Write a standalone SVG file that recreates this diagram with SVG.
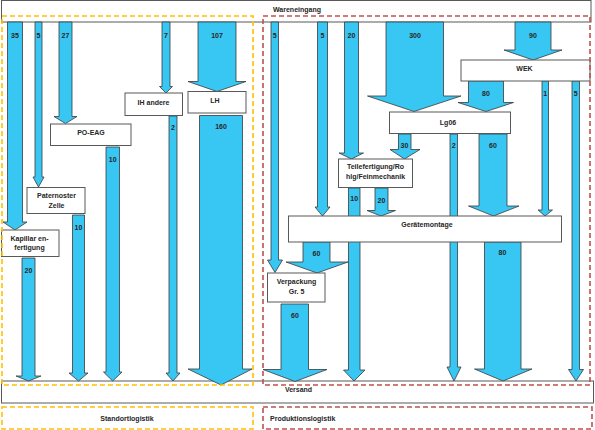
<svg xmlns="http://www.w3.org/2000/svg" width="595" height="430" viewBox="0 0 595 430">
<style>
.box{fill:#ffffff;stroke:#595959;stroke-width:1}
.arr{fill:#38c6f2;stroke:#3a3a3a;stroke-width:0.8;stroke-linejoin:miter}
.t{font-family:"Liberation Sans",Arial,sans-serif;font-size:7px;font-weight:bold;fill:#262626;text-anchor:middle}
.tl{font-family:"Liberation Sans",Arial,sans-serif;font-size:7px;font-weight:bold;fill:#262626}
.or{fill:none;stroke:#ffc000;stroke-width:1.6;stroke-dasharray:5,3}
.rd{fill:none;stroke:#c0504d;stroke-width:1.6;stroke-dasharray:5,3}
</style>
<rect width="595" height="430" fill="#ffffff"/>
<g id="wareneingang"><rect class="box" x="1.5" y="0.5" width="589.5" height="21.5"/><text class="t" x="297" y="11.5">Wareneingang</text></g>
<g id="versand"><rect class="box" x="1.5" y="381" width="592" height="22"/><text class="t" x="298.5" y="392">Versand</text></g>
<g id="connectors">
<polygon class="arr" points="7.5,22 22.5,22 22.5,222 27,222 15,230 3,222 7.5,222"/>
<polygon class="arr" points="22,258 35,258 35,376 41,376 28.5,381 16,376 22,376"/>
<polygon class="arr" points="35,22 42,22 42,177 44,177 38.5,187 33,177 35,177"/>
<polygon class="arr" points="72.5,215 84.5,215 84.5,373 88,373 78.5,381 69,373 72.5,373"/>
<polygon class="arr" points="59,22 72,22 72,116.5 77,116.5 65.5,123.5 54,116.5 59,116.5"/>
<polygon class="arr" points="106,147 119.5,147 119.5,372 122,372 112.7,381 103.5,372 106,372"/>
<polygon class="arr" points="162,22 170,22 170,86.5 172.5,86.5 166,93 159.5,86.5 162,86.5"/>
<polygon class="arr" points="169,116 177,116 177,373 180,373 173,381 166,373 169,373"/>
<polygon class="arr" points="198,22 236,22 236,81.5 246,81.5 217,91.5 188,81.5 198,81.5"/>
<polygon class="arr" points="199.5,115.5 242.5,115.5 242.5,369 252,369 221,385 188,369 199.5,369"/>
<polygon class="arr" points="271,22 278.5,22 278.5,260 282.5,260 275,272.5 267.5,260 271,260"/>
<polygon class="arr" points="281,304 308.5,304 308.5,369.5 327,369.5 295,381.5 263,369.5 281,369.5"/>
<polygon class="arr" points="317.5,22 327.5,22 327.5,207 330,207 322.5,216 315,207 317.5,207"/>
<polygon class="arr" points="344.5,22 358.5,22 358.5,153 363.5,153 351.5,159 339,153 344.5,153"/>
<polygon class="arr" points="386,22 443.5,22 443.5,96 461,96 414,111.5 367.5,96 386,96"/>
<polygon class="arr" points="515,22 551,22 551,50 562,50 533,60 504,50 515,50"/>
<polygon class="arr" points="468.5,81 503.5,81 503.5,102.5 513.5,102.5 486,111.5 458,102.5 468.5,102.5"/>
<polygon class="arr" points="542,81 548.5,81 548.5,210 552.5,210 545,216 538,210 542,210"/>
<polygon class="arr" points="572,81 579.5,81 579.5,369.5 583.5,369.5 576,381 568.5,369.5 572,369.5"/>
<polygon class="arr" points="398.5,134 411,134 411,149.5 420,149.5 404.5,159 390,149.5 398.5,149.5"/>
<polygon class="arr" points="450,134 457.5,134 457.5,367 461,367 454,381 447,367 450,367"/>
<polygon class="arr" points="479,134 507,134 507,206 519,206 493.5,216 468.5,206 479,206"/>
<polygon class="arr" points="484.5,242 521,242 521,369 532,369 503,381 474.5,369 484.5,369"/>
<polygon class="arr" points="348.5,188 360,188 360,370 365,370 354,381 343.5,370 348.5,370"/>
<polygon class="arr" points="375,188 388,188 388,210.5 395.5,210.5 381,216 367,210.5 375,210.5"/>
<polygon class="arr" points="303,242 330,242 330,262 348,262 317,273 286,262 303,262"/>
<text class="t" x="15" y="37.5">35</text>
<text class="t" x="38.5" y="37.5">5</text>
<text class="t" x="65.5" y="37.5">27</text>
<text class="t" x="166" y="37.5">7</text>
<text class="t" x="217" y="37.5">107</text>
<text class="t" x="274.7" y="37.5">5</text>
<text class="t" x="322.5" y="37.5">5</text>
<text class="t" x="351.5" y="37.5">20</text>
<text class="t" x="415" y="37.5">300</text>
<text class="t" x="533" y="37.5">90</text>
<text class="t" x="486" y="95.8">80</text>
<text class="t" x="545.2" y="95.8">1</text>
<text class="t" x="575.8" y="95.8">5</text>
<text class="t" x="404.5" y="148">30</text>
<text class="t" x="453.8" y="148">2</text>
<text class="t" x="493" y="148">60</text>
<text class="t" x="354.2" y="201">10</text>
<text class="t" x="381.5" y="202.5">20</text>
<text class="t" x="316.5" y="256">60</text>
<text class="t" x="502.5" y="255">80</text>
<text class="t" x="295" y="317.5">60</text>
<text class="t" x="221" y="129">160</text>
<text class="t" x="173" y="130">2</text>
<text class="t" x="112.7" y="161.5">10</text>
<text class="t" x="78.5" y="230">10</text>
<text class="t" x="28.5" y="272.5">20</text>
</g>
<g id="wek"><rect class="box" x="461" y="60" width="129" height="21"/><text class="t" x="524.5" y="71">WEK</text></g>
<g id="lg06"><rect class="box" x="389.5" y="112" width="121" height="21.5"/><text class="t" x="448" y="125">Lg06</text></g>
<g id="ih-andere"><rect class="box" x="125" y="93" width="57.5" height="22.5"/><text class="t" x="153.5" y="104.8">IH andere</text></g>
<g id="lh"><rect class="box" x="188" y="91.5" width="58" height="21.5"/><text class="t" x="215" y="103.2">LH</text></g>
<g id="po-eag"><rect class="box" x="50.5" y="124" width="80.5" height="21.5"/><text class="t" x="91" y="135">PO-EAG</text></g>
<g id="paternoster"><rect class="box" x="27" y="187.5" width="58" height="26"/><text class="t" x="56.5" y="198">Paternoster</text><text class="t" x="56.5" y="208">Zelle</text></g>
<g id="kapillarenfertigung"><rect class="box" x="1.5" y="230" width="57.5" height="26.5"/><text class="t" x="29.5" y="241">Kapillar en-</text><text class="t" x="29.5" y="250">fertigung</text></g>
<g id="teilefertigung"><rect class="box" x="338.5" y="159" width="74" height="28.5"/><text class="t" x="375.5" y="169">Teilefertigung/Ro</text><text class="t" x="375.5" y="178.5">hlg/Feinmechanik</text></g>
<g id="geraetemontage"><rect class="box" x="288.5" y="216" width="273" height="26"/><text class="t" x="427" y="226.5">Gerätemontage</text></g>
<g id="verpackung"><rect class="box" x="267.5" y="273" width="57.5" height="29"/><text class="t" x="296.5" y="284">Verpackung</text><text class="t" x="296.5" y="294">Gr. 5</text></g>
<g id="standortlogistik-bereich"><rect class="or" x="2" y="16" width="251" height="369"/></g>
<g id="produktionslogistik-bereich"><rect class="rd" x="263" y="16" width="327" height="369"/></g>
<g id="standortlogistik"><rect class="or" x="2" y="407" width="251" height="22"/><text class="t" x="127" y="421">Standortlogistik</text></g>
<g id="produktionslogistik"><rect class="rd" x="263" y="407" width="329" height="22"/><text class="tl" x="270" y="421">Produktionslogistik</text></g>
</svg>
